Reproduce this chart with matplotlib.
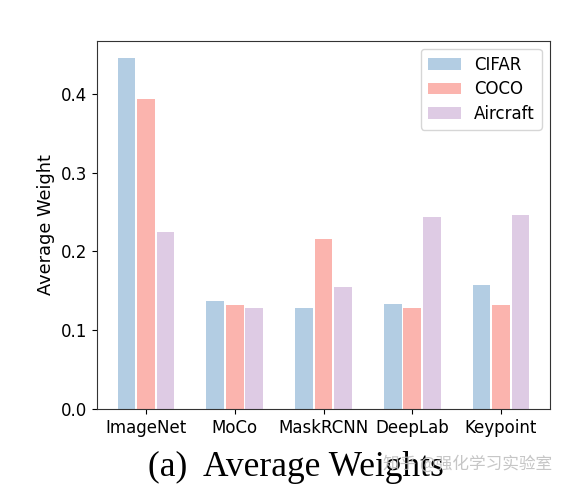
import matplotlib
matplotlib.use("Agg")
import matplotlib.pyplot as plt
import numpy as np

categories = ["ImageNet", "MoCo", "MaskRCNN", "DeepLab", "Keypoint"]
series_names = ["CIFAR", "COCO", "Aircraft"]
cifar = [0.445, 0.1376, 0.128, 0.133, 0.1567]
coco = [0.393, 0.1318, 0.2157, 0.128, 0.132]
aircraft = [0.225, 0.128, 0.155, 0.244, 0.2456]
colors = ["#b3cde3", "#fbb4ae", "#decbe4"]

fig = plt.figure(figsize=(5.65, 5.03), dpi=100)
ax = fig.add_axes([0.1717, 0.187, 0.9735 - 0.1717, 0.919 - 0.187])

x = np.arange(len(categories))
width = 0.2
offsets = [-0.22, 0.0, 0.22]
for vals, name, col, off in zip([cifar, coco, aircraft], series_names, colors, offsets):
    ax.bar(x + off, vals, width, color=col, label=name)

ax.set_xticks(x)
ax.set_xticklabels(categories, fontsize=12)
ax.set_yticks([0.0, 0.1, 0.2, 0.3, 0.4])
ax.tick_params(axis="y", labelsize=12)
ax.set_ylabel("Average Weight", fontsize=12.8)
for s in ax.spines.values():
    s.set_edgecolor("#333333")
ax.legend(loc="upper right", fontsize=12, labelspacing=0.4)

fig.text(0.524, 0.071, "(a)  Average Weights", fontsize=25.5, family="Liberation Serif",
         ha="center", va="center")
fig.text(0.827, 0.077, "知乎 @强化学习实验室", fontsize=12,
         family=["Noto Sans CJK SC", "DejaVu Sans"], color="#c0c0c0",
         ha="center", va="center", alpha=0.9)

fig.savefig("out.png", dpi=100)
